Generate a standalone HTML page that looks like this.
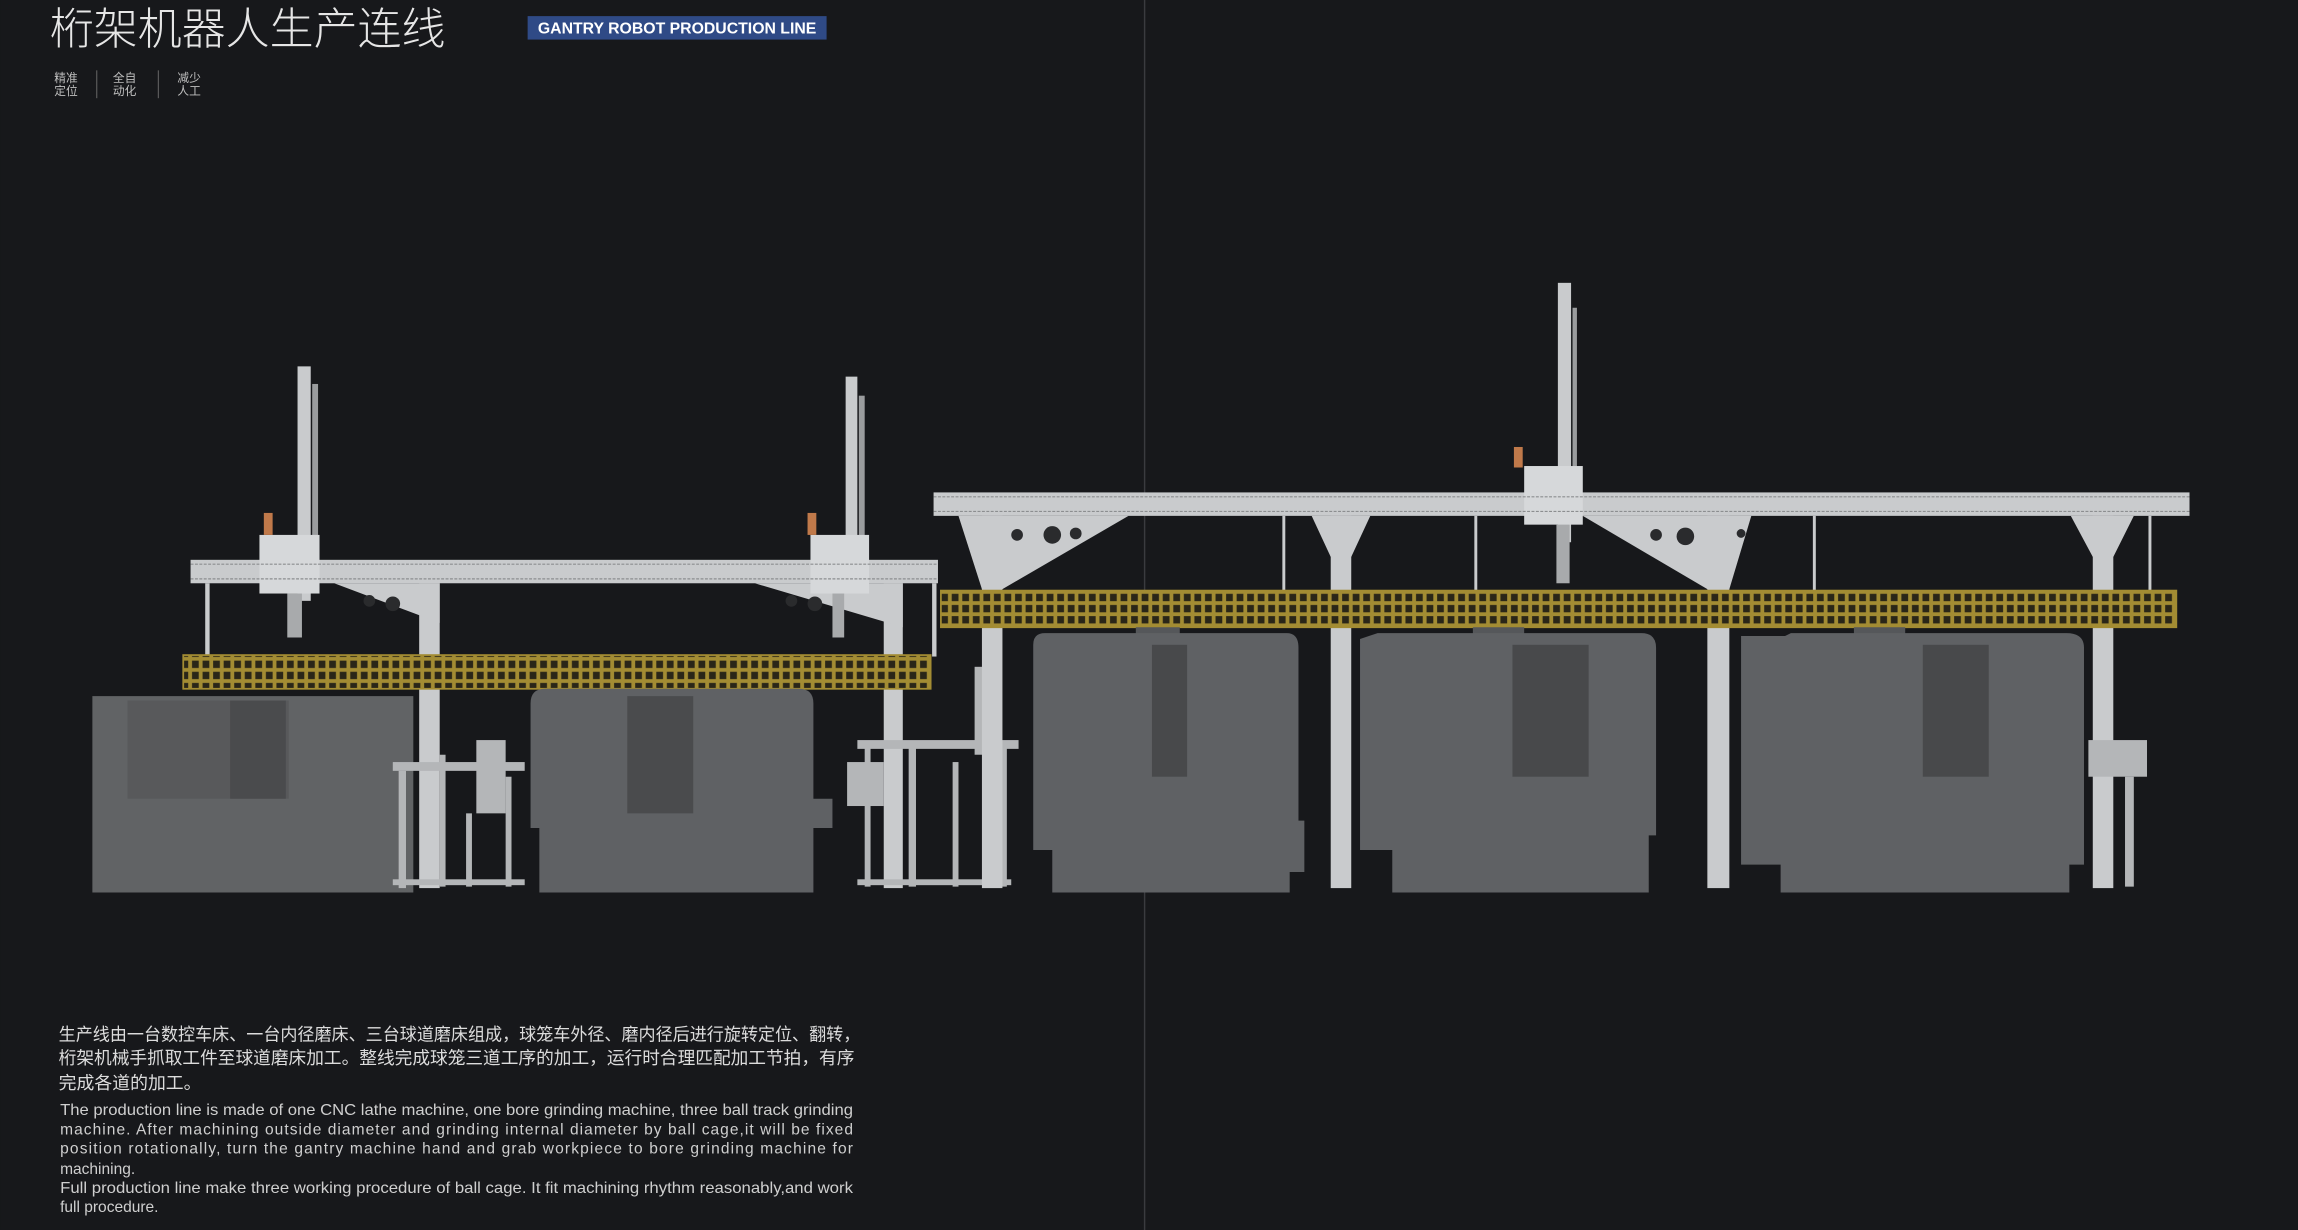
<!DOCTYPE html>
<html><head><meta charset="utf-8"><style>
html,body{margin:0;padding:0;background:#17181b;}
svg{display:block}
</style></head><body>
<svg width="2298" height="1230" viewBox="0 0 1568 839.3" xmlns="http://www.w3.org/2000/svg" font-family="'Liberation Sans','Noto Sans CJK SC',sans-serif">
<defs>
<pattern id="fence" width="7.2" height="7.6" patternUnits="userSpaceOnUse" x="0" y="1">
<rect width="7.2" height="7.6" fill="#a38c33"/>
<rect x="1.4" y="1.4" width="4.6" height="5" fill="#2a2618"/>
</pattern>
</defs>
<rect width="1568" height="840" fill="#17181b"/>
<line x1="781" y1="0" x2="781" y2="840" stroke="#3a3b3f" stroke-width="1"/>

<!-- header -->
<text x="34" y="30" font-size="30" fill="#e6e6e6" font-weight="300">桁架机器人生产连线</text>
<rect x="360" y="11" width="204" height="16" fill="#2f4a86"/>
<text x="367" y="23" font-size="10.5" fill="#ffffff" font-weight="bold" textLength="190" lengthAdjust="spacingAndGlyphs">GANTRY ROBOT PRODUCTION LINE</text>
<g font-size="8" fill="#bfbfbf">
<text x="37" y="56">精准</text><text x="37" y="65">定位</text>
<text x="77" y="56">全自</text><text x="77" y="65">动化</text>
<text x="121" y="56">减少</text><text x="121" y="65">人工</text>
</g>
<line x1="66" y1="48" x2="66" y2="67" stroke="#666" stroke-width="0.7"/>
<line x1="108" y1="48" x2="108" y2="67" stroke="#666" stroke-width="0.7"/>

<!-- LEFT GANTRY -->
<g fill="#c9cbcd">
<rect x="203" y="250" width="9" height="160"/>
<rect x="577" y="257" width="8" height="153"/>
<rect x="213" y="262" width="4" height="110" fill="#9a9c9e"/>
<rect x="586" y="270" width="4" height="100" fill="#9a9c9e"/>
<rect x="130" y="382" width="510" height="16"/>
<rect x="286" y="398" width="14" height="208"/>
<rect x="603" y="398" width="13" height="208"/>
<polygon points="228,398 300,398 300,425 "/>
<polygon points="515,398 616,398 616,428"/>
<rect x="177" y="365" width="41" height="40" fill="#d6d8da"/>
<rect x="553" y="365" width="40" height="40" fill="#d6d8da"/>
<rect x="140" y="398" width="3" height="50"/>
<rect x="636" y="398" width="3" height="50"/>
</g>
<line x1="130" y1="385" x2="640" y2="385" stroke="#8c8e90" stroke-width="0.8" stroke-dasharray="2,1"/>
<line x1="130" y1="395" x2="640" y2="395" stroke="#8c8e90" stroke-width="0.8" stroke-dasharray="2,1"/>
<g fill="#2a2b2d"><circle cx="252" cy="410" r="4"/><circle cx="268" cy="412" r="5"/><circle cx="540" cy="410" r="4"/><circle cx="556" cy="412" r="5"/></g>
<rect x="180" y="350" width="6" height="15" fill="#c0794a"/>
<rect x="551" y="350" width="6" height="15" fill="#c0794a"/>
<rect x="196" y="405" width="10" height="30" fill="#a8aaac"/>
<rect x="568" y="405" width="8" height="30" fill="#a8aaac"/>

<!-- left fence -->
<rect x="125" y="447" width="510" height="23" fill="url(#fence)"/>
<rect x="125" y="447" width="510" height="23" fill="none" stroke="#a38c33" stroke-width="1.2"/>

<!-- left machines -->
<rect x="63" y="475" width="219" height="134" fill="#616365"/>
<rect x="87" y="478" width="110" height="67" fill="#58595b"/>
<rect x="157" y="478" width="38" height="67" fill="#4a4b4d"/>
<path d="M362,480 Q362,470 372,470 L545,470 Q555,470 555,480 L555,545 L568,545 L568,565 L555,565 L555,609 L368,609 L368,565 L362,565 Z" fill="#5f6164"/>
<rect x="428" y="475" width="45" height="80" fill="#4a4b4d"/>
<g fill="#b4b6b8">
<rect x="268" y="520" width="90" height="6"/>
<rect x="272" y="526" width="5" height="80"/>
<rect x="300" y="515" width="4" height="90"/>
<rect x="325" y="505" width="20" height="50"/>
<rect x="318" y="555" width="4" height="50"/>
<rect x="345" y="530" width="4" height="75"/>
<rect x="268" y="600" width="90" height="4"/>
<rect x="585" y="505" width="110" height="6"/>
<rect x="590" y="510" width="4" height="95"/>
<rect x="620" y="510" width="5" height="95"/>
<rect x="650" y="520" width="4" height="85"/>
<rect x="682" y="510" width="5" height="95"/>
<rect x="665" y="455" width="10" height="60"/>
<rect x="578" y="520" width="25" height="30"/>
<rect x="585" y="600" width="105" height="4"/>
</g>

<!-- RIGHT GANTRY -->
<g fill="#c9cbcd">
<rect x="1063" y="193" width="9" height="177"/>
<rect x="1073" y="210" width="3" height="110" fill="#9a9c9e"/>
<rect x="637" y="336" width="857" height="16"/>
<rect x="670" y="352" width="14" height="254"/>
<rect x="908" y="352" width="14" height="254"/>
<rect x="1165" y="352" width="15" height="254"/>
<rect x="1428" y="352" width="14" height="254"/>
<polygon points="654,352 770,352 684,402 670,402"/>
<polygon points="895,352 935,352 922,380 908,380"/>
<polygon points="1080,352 1195,352 1180,402 1165,402"/>
<polygon points="1413,352 1456,352 1442,380 1428,380"/>
<rect x="1040" y="318" width="40" height="40" fill="#d6d8da"/>
<rect x="1062" y="358" width="9" height="40" fill="#a8aaac"/>
<rect x="875" y="352" width="2" height="52"/>
<rect x="1006" y="352" width="2" height="52"/>
<rect x="1237" y="352" width="2" height="52"/>
<rect x="1466" y="352" width="2" height="52"/>
</g>
<line x1="637" y1="339" x2="1494" y2="339" stroke="#8c8e90" stroke-width="0.8" stroke-dasharray="2,1"/>
<line x1="637" y1="349" x2="1494" y2="349" stroke="#8c8e90" stroke-width="0.8" stroke-dasharray="2,1"/>
<g fill="#2a2b2d"><circle cx="694" cy="365" r="4"/><circle cx="718" cy="365" r="6"/><circle cx="734" cy="364" r="4"/><circle cx="1130" cy="365" r="4"/><circle cx="1150" cy="366" r="6"/><circle cx="1188" cy="364" r="3"/></g>
<rect x="1033" y="305" width="6" height="14" fill="#c0794a"/>

<!-- right fence -->
<rect x="642" y="403" width="843" height="25" fill="url(#fence)"/>
<rect x="642" y="403" width="843" height="25" fill="none" stroke="#a38c33" stroke-width="1.2"/>

<!-- right machines -->
<g>
<rect x="775" y="428" width="30" height="10" fill="#55575a"/>
<path d="M705,440 Q705,432 713,432 L878,432 Q886,432 886,442 L886,560 L890,560 L890,595 L880,595 L880,609 L718,609 L718,580 L705,580 Z" fill="#5f6164"/>
<rect x="786" y="440" width="24" height="90" fill="#48494b"/>
<rect x="1005" y="428" width="35" height="10" fill="#55575a"/>
<path d="M928,436 L940,432 L1120,432 Q1130,432 1130,442 L1130,570 L1125,570 L1125,609 L950,609 L950,580 L928,580 Z" fill="#5f6164"/>
<rect x="1032" y="440" width="52" height="90" fill="#48494b"/>
<rect x="1265" y="428" width="35" height="10" fill="#55575a"/>
<path d="M1188,434 L1218,434 L1222,432 L1410,432 Q1422,432 1422,442 L1422,590 L1412,590 L1412,609 L1215,609 L1215,590 L1188,590 Z" fill="#5f6164"/>
<rect x="1312" y="440" width="45" height="90" fill="#48494b"/>
<rect x="1425" y="505" width="40" height="25" fill="#b4b6b8"/>
<rect x="1450" y="530" width="6" height="75" fill="#b4b6b8"/>
</g>

<!-- text -->
<g font-size="12.2" fill="#dcdcdc">
<text x="40" y="710" textLength="547" lengthAdjust="spacingAndGlyphs">生产线由一台数控车床、一台内径磨床、三台球道磨床组成，球笼车外径、磨内径后进行旋转定位、翻转，</text>
<text x="40" y="726" textLength="543" lengthAdjust="spacingAndGlyphs">桁架机械手抓取工件至球道磨床加工。整线完成球笼三道工序的加工，运行时合理匹配加工节拍，有序</text>
<text x="40" y="743">完成各道的加工。</text>
</g>
<g font-size="10.6" fill="#cfcfcf">
<text x="41" y="761" textLength="541" lengthAdjust="spacingAndGlyphs">The production line is made of one CNC lathe machine, one bore grinding machine, three ball track grinding</text>
<text x="41" y="774" textLength="541" lengthAdjust="spacing">machine. After machining outside diameter and grinding internal diameter by ball cage,it will be fixed</text>
<text x="41" y="787" textLength="541" lengthAdjust="spacing">position rotationally, turn the gantry machine hand and grab workpiece to bore grinding machine for</text>
<text x="41" y="801">machining.</text>
<text x="41" y="814" textLength="541" lengthAdjust="spacingAndGlyphs">Full production line make three working procedure of ball cage. It fit machining rhythm reasonably,and work</text>
<text x="41" y="827">full procedure.</text>
</g>
</svg>
</body></html>
